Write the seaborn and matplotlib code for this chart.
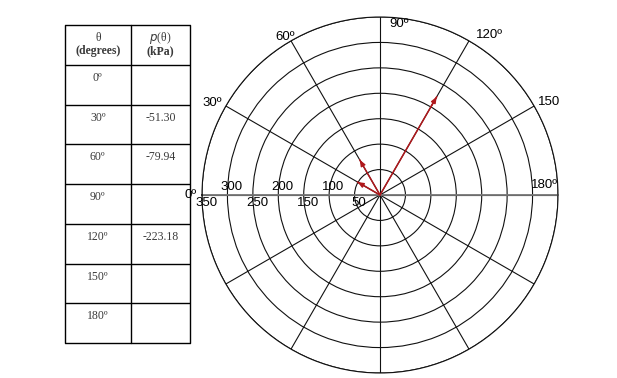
import numpy as np
import pandas as pd
import matplotlib
matplotlib.use("Agg")
import matplotlib.pyplot as plt
import seaborn as sns

sns.set_theme(style="white")
plt.rcParams['font.family'] = ['Liberation Sans', 'DejaVu Sans']

# ---- data ----
table_angles = ["0º", "30º", "60º", "90º", "120º", "150º", "180º"]
table_pressures = ["", "-51.30", "-79.94", "", "-223.18", "", ""]
arrow_angles_deg = [30, 60, 120]
arrow_pressures = [-51.30, -79.94, -223.18]
radial_ticks = [50, 100, 150, 200, 250, 300, 350]
angle_ticks = [0, 30, 60, 90, 120, 150, 180, 210, 240, 270, 300, 330]
angle_labels = ["0º", "30º", "60º", "90º", "120º", "150", "180º"]

W, H = 617, 378
fig = plt.figure(figsize=(W / 100, H / 100), dpi=100)
fig.patch.set_facecolor("white")

# ---- table ----
tx0, tx1, ty0, ty1 = 64.5, 190, 25, 343
tax = fig.add_axes([tx0 / W, 1 - ty1 / H, (tx1 - tx0) / W, (ty1 - ty0) / H])
tax.set_xlim(0, 2)
tax.set_ylim(8, 0)
tax.axis("off")
nrows = 8
for i in range(nrows + 1):
    tax.plot([0, 2], [i, i], color="black", lw=1.0, solid_capstyle="butt", clip_on=False)
for xv in [0, 1.06, 2]:
    tax.plot([xv, xv], [0, nrows], color="black", lw=1.0, clip_on=False)
serif = ["Liberation Serif", "DejaVu Serif"]
tcol = "#3a3a3a"
tax.text(0.53, 0.33, "θ", ha="center", va="center", fontsize=8.5, family=serif, color=tcol)
tax.text(0.53, 0.65, "(degrees)", ha="center", va="center", fontsize=8.5, family=serif,
         weight="bold", color=tcol)
tax.text(1.53, 0.33, "$p$(θ)", ha="center", va="center", fontsize=8.5, family=serif, color=tcol)
tax.text(1.53, 0.65, "(kPa)", ha="center", va="center", fontsize=8.5, family=serif,
         weight="bold", color=tcol)
for i, (a, p) in enumerate(zip(table_angles, table_pressures)):
    y = i + 1 + 0.33
    tax.text(0.53, y, a, ha="center", va="center", fontsize=8.5, family=serif, color=tcol)
    if p:
        tax.text(1.53, y, p, ha="center", va="center", fontsize=8.5, family=serif, color=tcol)

# ---- polar chart ----
cx, cy, R = 380, 195, 178
pax = fig.add_axes([(cx - R) / W, 1 - (cy + R) / H, 2 * R / W, 2 * R / H], projection="polar")
pax.set_theta_zero_location("W")
pax.set_theta_direction(-1)
pax.set_ylim(0, 350)
pax.set_facecolor("white")
pax.set_rgrids(radial_ticks, labels=[""] * len(radial_ticks))
pax.set_thetagrids(angle_ticks, labels=[""] * len(angle_ticks))
pax.grid(True, color="#111111", lw=0.8)
pax.spines["polar"].set_color("#111111")
pax.spines["polar"].set_linewidth(0.8)
pax.tick_params(length=0)

# horizontal 0-180 line (grey, a bit heavier)
pax.plot([0, 0], [0, 350], color="#777777", lw=1.3, clip_on=False)
pax.plot([np.pi, np.pi], [0, 350], color="#777777", lw=1.3, clip_on=False)

# arrows via seaborn lineplot
rows = []
for a, p in zip(arrow_angles_deg, arrow_pressures):
    rows.append({"angle": a, "theta": np.deg2rad(a), "r": 0.0})
    rows.append({"angle": a, "theta": np.deg2rad(a), "r": abs(p)})
df = pd.DataFrame(rows)
red = "#b0181c"
sns.lineplot(data=df, x="theta", y="r", units="angle", estimator=None, sort=False,
             color=red, lw=1.1, ax=pax, legend=False)
for a, p in zip(arrow_angles_deg, arrow_pressures):
    th = np.deg2rad(a)
    pax.annotate("", xy=(th, abs(p)), xytext=(th, abs(p) * 0.9),
                 arrowprops=dict(arrowstyle="-|>,head_length=0.3,head_width=0.12",
                                 color=red, lw=1.0, shrinkA=0, shrinkB=0))
pax.set_xlabel("")
pax.set_ylabel("")

# angle labels
offsets = {0: (-4, 0, "right", "center"), 30: (-3, 2, "right", "center"),
           60: (-4, 3, "center", "center"), 90: (7, -5, "left", "center"),
           120: (5, 4, "left", "center"), 150: (3, 3, "left", "center"),
           180: (-10, 7, "center", "center")}
for ang, lab in zip(angle_ticks, angle_labels):
    dx, dy, ha, va = offsets[ang]
    pax.annotate(lab, xy=(np.deg2rad(ang), 350), xytext=(dx, dy), textcoords="offset points",
                 ha=ha, va=va, fontsize=9.5, color="black", annotation_clip=False)

# radial labels along left horizontal
for i, rv in enumerate(radial_ticks):
    above = (rv % 100 == 0)
    dy = 6 if above else -6
    pax.annotate(str(rv), xy=(0, rv), xytext=(3, dy), textcoords="offset points",
                 ha="center", va="center", fontsize=9.5, color="black", annotation_clip=False)

fig.savefig("out.png", dpi=100, facecolor="white")
